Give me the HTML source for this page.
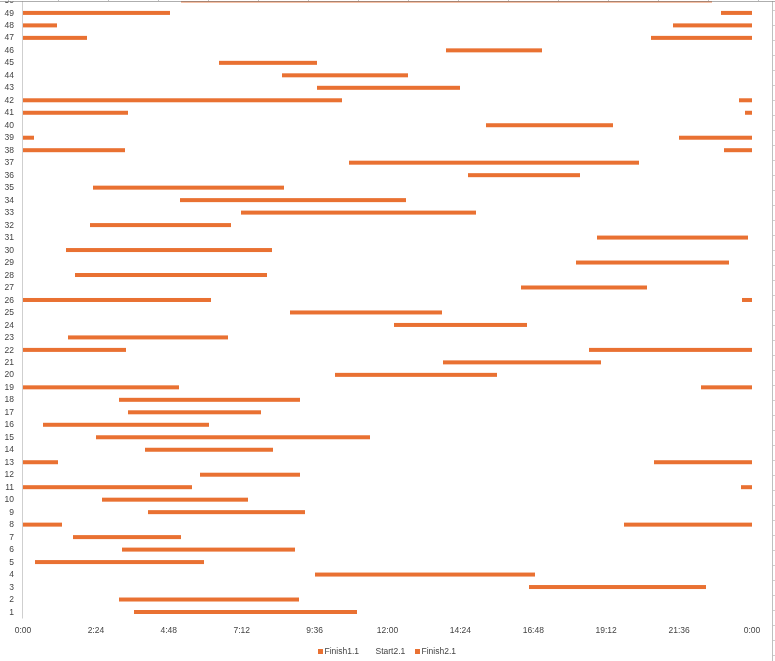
<!DOCTYPE html>
<html><head><meta charset="utf-8"><style>
html,body{margin:0;padding:0;background:#fff;width:775px;height:661px;overflow:hidden}
svg{display:block;will-change:transform}
.l{font-family:"Liberation Sans",sans-serif;font-size:8.5px;fill:#444444}
</style></head><body>
<svg width="775" height="661" viewBox="0 0 775 661">
<rect x="772" y="0" width="1" height="661" fill="#BFBFBF"/>
<rect x="773" y="10" width="2" height="1" fill="#D0D0D0"/>
<rect x="773" y="25" width="2" height="1" fill="#D0D0D0"/>
<rect x="773" y="40" width="2" height="1" fill="#D0D0D0"/>
<rect x="773" y="55" width="2" height="1" fill="#D0D0D0"/>
<rect x="773" y="70" width="2" height="1" fill="#D0D0D0"/>
<rect x="773" y="85" width="2" height="1" fill="#D0D0D0"/>
<rect x="773" y="100" width="2" height="1" fill="#D0D0D0"/>
<rect x="773" y="115" width="2" height="1" fill="#D0D0D0"/>
<rect x="773" y="130" width="2" height="1" fill="#D0D0D0"/>
<rect x="773" y="145" width="2" height="1" fill="#D0D0D0"/>
<rect x="773" y="160" width="2" height="1" fill="#D0D0D0"/>
<rect x="773" y="175" width="2" height="1" fill="#D0D0D0"/>
<rect x="773" y="190" width="2" height="1" fill="#D0D0D0"/>
<rect x="773" y="205" width="2" height="1" fill="#D0D0D0"/>
<rect x="773" y="220" width="2" height="1" fill="#D0D0D0"/>
<rect x="773" y="235" width="2" height="1" fill="#D0D0D0"/>
<rect x="773" y="250" width="2" height="1" fill="#D0D0D0"/>
<rect x="773" y="265" width="2" height="1" fill="#D0D0D0"/>
<rect x="773" y="280" width="2" height="1" fill="#D0D0D0"/>
<rect x="773" y="295" width="2" height="1" fill="#D0D0D0"/>
<rect x="773" y="310" width="2" height="1" fill="#D0D0D0"/>
<rect x="773" y="325" width="2" height="1" fill="#D0D0D0"/>
<rect x="773" y="340" width="2" height="1" fill="#D0D0D0"/>
<rect x="773" y="355" width="2" height="1" fill="#D0D0D0"/>
<rect x="773" y="370" width="2" height="1" fill="#D0D0D0"/>
<rect x="773" y="385" width="2" height="1" fill="#D0D0D0"/>
<rect x="773" y="400" width="2" height="1" fill="#D0D0D0"/>
<rect x="773" y="415" width="2" height="1" fill="#D0D0D0"/>
<rect x="773" y="430" width="2" height="1" fill="#D0D0D0"/>
<rect x="773" y="445" width="2" height="1" fill="#D0D0D0"/>
<rect x="773" y="460" width="2" height="1" fill="#D0D0D0"/>
<rect x="773" y="475" width="2" height="1" fill="#D0D0D0"/>
<rect x="773" y="490" width="2" height="1" fill="#D0D0D0"/>
<rect x="773" y="505" width="2" height="1" fill="#D0D0D0"/>
<rect x="773" y="520" width="2" height="1" fill="#D0D0D0"/>
<rect x="773" y="535" width="2" height="1" fill="#D0D0D0"/>
<rect x="773" y="550" width="2" height="1" fill="#D0D0D0"/>
<rect x="773" y="565" width="2" height="1" fill="#D0D0D0"/>
<rect x="773" y="580" width="2" height="1" fill="#D0D0D0"/>
<rect x="773" y="595" width="2" height="1" fill="#D0D0D0"/>
<rect x="773" y="610" width="2" height="1" fill="#D0D0D0"/>
<rect x="773" y="625" width="2" height="1" fill="#D0D0D0"/>
<rect x="773" y="640" width="2" height="1" fill="#D0D0D0"/>
<rect x="773" y="655" width="2" height="1" fill="#D0D0D0"/>
<rect x="22" y="0" width="1" height="618.5" fill="#CFCFCF"/>
<rect x="181" y="-1.57" width="531" height="4.0" fill="#E97132"/>
<rect x="23" y="10.91" width="147" height="4.0" fill="#E97132"/>
<rect x="721" y="10.91" width="31" height="4.0" fill="#E97132"/>
<rect x="23" y="23.39" width="34" height="4.0" fill="#E97132"/>
<rect x="673" y="23.39" width="79" height="4.0" fill="#E97132"/>
<rect x="23" y="35.87" width="64" height="4.0" fill="#E97132"/>
<rect x="651" y="35.87" width="101" height="4.0" fill="#E97132"/>
<rect x="446" y="48.36" width="96" height="4.0" fill="#E97132"/>
<rect x="219" y="60.84" width="98" height="4.0" fill="#E97132"/>
<rect x="282" y="73.32" width="126" height="4.0" fill="#E97132"/>
<rect x="317" y="85.80" width="143" height="4.0" fill="#E97132"/>
<rect x="23" y="98.28" width="319" height="4.0" fill="#E97132"/>
<rect x="739" y="98.28" width="13" height="4.0" fill="#E97132"/>
<rect x="23" y="110.76" width="105" height="4.0" fill="#E97132"/>
<rect x="745" y="110.76" width="7" height="4.0" fill="#E97132"/>
<rect x="486" y="123.24" width="127" height="4.0" fill="#E97132"/>
<rect x="23" y="135.72" width="11" height="4.0" fill="#E97132"/>
<rect x="679" y="135.72" width="73" height="4.0" fill="#E97132"/>
<rect x="23" y="148.20" width="102" height="4.0" fill="#E97132"/>
<rect x="724" y="148.20" width="28" height="4.0" fill="#E97132"/>
<rect x="349" y="160.68" width="290" height="4.0" fill="#E97132"/>
<rect x="468" y="173.17" width="112" height="4.0" fill="#E97132"/>
<rect x="93" y="185.65" width="191" height="4.0" fill="#E97132"/>
<rect x="180" y="198.13" width="226" height="4.0" fill="#E97132"/>
<rect x="241" y="210.61" width="235" height="4.0" fill="#E97132"/>
<rect x="90" y="223.09" width="141" height="4.0" fill="#E97132"/>
<rect x="597" y="235.57" width="151" height="4.0" fill="#E97132"/>
<rect x="66" y="248.05" width="206" height="4.0" fill="#E97132"/>
<rect x="576" y="260.53" width="153" height="4.0" fill="#E97132"/>
<rect x="75" y="273.01" width="192" height="4.0" fill="#E97132"/>
<rect x="521" y="285.49" width="126" height="4.0" fill="#E97132"/>
<rect x="23" y="297.98" width="188" height="4.0" fill="#E97132"/>
<rect x="742" y="297.98" width="10" height="4.0" fill="#E97132"/>
<rect x="290" y="310.46" width="152" height="4.0" fill="#E97132"/>
<rect x="394" y="322.94" width="133" height="4.0" fill="#E97132"/>
<rect x="68" y="335.42" width="160" height="4.0" fill="#E97132"/>
<rect x="23" y="347.90" width="103" height="4.0" fill="#E97132"/>
<rect x="589" y="347.90" width="163" height="4.0" fill="#E97132"/>
<rect x="443" y="360.38" width="158" height="4.0" fill="#E97132"/>
<rect x="335" y="372.86" width="162" height="4.0" fill="#E97132"/>
<rect x="23" y="385.34" width="156" height="4.0" fill="#E97132"/>
<rect x="701" y="385.34" width="51" height="4.0" fill="#E97132"/>
<rect x="119" y="397.82" width="181" height="4.0" fill="#E97132"/>
<rect x="128" y="410.30" width="133" height="4.0" fill="#E97132"/>
<rect x="43" y="422.78" width="166" height="4.0" fill="#E97132"/>
<rect x="96" y="435.27" width="274" height="4.0" fill="#E97132"/>
<rect x="145" y="447.75" width="128" height="4.0" fill="#E97132"/>
<rect x="23" y="460.23" width="35" height="4.0" fill="#E97132"/>
<rect x="654" y="460.23" width="98" height="4.0" fill="#E97132"/>
<rect x="200" y="472.71" width="100" height="4.0" fill="#E97132"/>
<rect x="23" y="485.19" width="169" height="4.0" fill="#E97132"/>
<rect x="741" y="485.19" width="11" height="4.0" fill="#E97132"/>
<rect x="102" y="497.67" width="146" height="4.0" fill="#E97132"/>
<rect x="148" y="510.15" width="157" height="4.0" fill="#E97132"/>
<rect x="23" y="522.63" width="39" height="4.0" fill="#E97132"/>
<rect x="624" y="522.63" width="128" height="4.0" fill="#E97132"/>
<rect x="73" y="535.11" width="108" height="4.0" fill="#E97132"/>
<rect x="122" y="547.60" width="173" height="4.0" fill="#E97132"/>
<rect x="35" y="560.08" width="169" height="4.0" fill="#E97132"/>
<rect x="315" y="572.56" width="220" height="4.0" fill="#E97132"/>
<rect x="529" y="585.04" width="177" height="4.0" fill="#E97132"/>
<rect x="119" y="597.52" width="180" height="4.0" fill="#E97132"/>
<rect x="134" y="610.00" width="223" height="4.0" fill="#E97132"/>
<text x="14" y="614.60" text-anchor="end" class="l">1</text>
<text x="14" y="602.12" text-anchor="end" class="l">2</text>
<text x="14" y="589.64" text-anchor="end" class="l">3</text>
<text x="14" y="577.16" text-anchor="end" class="l">4</text>
<text x="14" y="564.68" text-anchor="end" class="l">5</text>
<text x="14" y="552.20" text-anchor="end" class="l">6</text>
<text x="14" y="539.71" text-anchor="end" class="l">7</text>
<text x="14" y="527.23" text-anchor="end" class="l">8</text>
<text x="14" y="514.75" text-anchor="end" class="l">9</text>
<text x="14" y="502.27" text-anchor="end" class="l">10</text>
<text x="14" y="489.79" text-anchor="end" class="l">11</text>
<text x="14" y="477.31" text-anchor="end" class="l">12</text>
<text x="14" y="464.83" text-anchor="end" class="l">13</text>
<text x="14" y="452.35" text-anchor="end" class="l">14</text>
<text x="14" y="439.87" text-anchor="end" class="l">15</text>
<text x="14" y="427.38" text-anchor="end" class="l">16</text>
<text x="14" y="414.90" text-anchor="end" class="l">17</text>
<text x="14" y="402.42" text-anchor="end" class="l">18</text>
<text x="14" y="389.94" text-anchor="end" class="l">19</text>
<text x="14" y="377.46" text-anchor="end" class="l">20</text>
<text x="14" y="364.98" text-anchor="end" class="l">21</text>
<text x="14" y="352.50" text-anchor="end" class="l">22</text>
<text x="14" y="340.02" text-anchor="end" class="l">23</text>
<text x="14" y="327.54" text-anchor="end" class="l">24</text>
<text x="14" y="315.06" text-anchor="end" class="l">25</text>
<text x="14" y="302.58" text-anchor="end" class="l">26</text>
<text x="14" y="290.09" text-anchor="end" class="l">27</text>
<text x="14" y="277.61" text-anchor="end" class="l">28</text>
<text x="14" y="265.13" text-anchor="end" class="l">29</text>
<text x="14" y="252.65" text-anchor="end" class="l">30</text>
<text x="14" y="240.17" text-anchor="end" class="l">31</text>
<text x="14" y="227.69" text-anchor="end" class="l">32</text>
<text x="14" y="215.21" text-anchor="end" class="l">33</text>
<text x="14" y="202.73" text-anchor="end" class="l">34</text>
<text x="14" y="190.25" text-anchor="end" class="l">35</text>
<text x="14" y="177.77" text-anchor="end" class="l">36</text>
<text x="14" y="165.28" text-anchor="end" class="l">37</text>
<text x="14" y="152.80" text-anchor="end" class="l">38</text>
<text x="14" y="140.32" text-anchor="end" class="l">39</text>
<text x="14" y="127.84" text-anchor="end" class="l">40</text>
<text x="14" y="115.36" text-anchor="end" class="l">41</text>
<text x="14" y="102.88" text-anchor="end" class="l">42</text>
<text x="14" y="90.40" text-anchor="end" class="l">43</text>
<text x="14" y="77.92" text-anchor="end" class="l">44</text>
<text x="14" y="65.44" text-anchor="end" class="l">45</text>
<text x="14" y="52.96" text-anchor="end" class="l">46</text>
<text x="14" y="40.47" text-anchor="end" class="l">47</text>
<text x="14" y="27.99" text-anchor="end" class="l">48</text>
<text x="14" y="15.51" text-anchor="end" class="l">49</text>
<text x="14" y="3.03" text-anchor="end" class="l">50</text>
<text x="23.00" y="633" text-anchor="middle" class="l">0:00</text>
<text x="95.90" y="633" text-anchor="middle" class="l">2:24</text>
<text x="168.80" y="633" text-anchor="middle" class="l">4:48</text>
<text x="241.70" y="633" text-anchor="middle" class="l">7:12</text>
<text x="314.60" y="633" text-anchor="middle" class="l">9:36</text>
<text x="387.50" y="633" text-anchor="middle" class="l">12:00</text>
<text x="460.40" y="633" text-anchor="middle" class="l">14:24</text>
<text x="533.30" y="633" text-anchor="middle" class="l">16:48</text>
<text x="606.20" y="633" text-anchor="middle" class="l">19:12</text>
<text x="679.10" y="633" text-anchor="middle" class="l">21:36</text>
<text x="752.00" y="633" text-anchor="middle" class="l">0:00</text>
<rect x="0" y="0" width="775" height="1" fill="#fff"/>
<rect x="0" y="1" width="775" height="1" fill="#8C8C8C" fill-opacity="0.7"/>
<rect x="8" y="0" width="1" height="1" fill="#BFBFBF"/>
<rect x="58" y="0" width="1" height="1" fill="#BFBFBF"/>
<rect x="108" y="0" width="1" height="1" fill="#BFBFBF"/>
<rect x="158" y="0" width="1" height="1" fill="#BFBFBF"/>
<rect x="208" y="0" width="1" height="1" fill="#BFBFBF"/>
<rect x="258" y="0" width="1" height="1" fill="#BFBFBF"/>
<rect x="308" y="0" width="1" height="1" fill="#BFBFBF"/>
<rect x="358" y="0" width="1" height="1" fill="#BFBFBF"/>
<rect x="408" y="0" width="1" height="1" fill="#BFBFBF"/>
<rect x="458" y="0" width="1" height="1" fill="#BFBFBF"/>
<rect x="508" y="0" width="1" height="1" fill="#BFBFBF"/>
<rect x="558" y="0" width="1" height="1" fill="#BFBFBF"/>
<rect x="608" y="0" width="1" height="1" fill="#BFBFBF"/>
<rect x="658" y="0" width="1" height="1" fill="#BFBFBF"/>
<rect x="708" y="0" width="1" height="1" fill="#BFBFBF"/>
<rect x="758" y="0" width="1" height="1" fill="#BFBFBF"/>
<rect x="318" y="649" width="5" height="5" fill="#E97132"/>
<text x="324.5" y="653.6" class="l">Finish1.1</text>
<text x="375.5" y="653.6" class="l">Start2.1</text>
<rect x="415" y="649" width="5" height="5" fill="#E97132"/>
<text x="421.5" y="653.6" class="l">Finish2.1</text>
</svg>
</body></html>
